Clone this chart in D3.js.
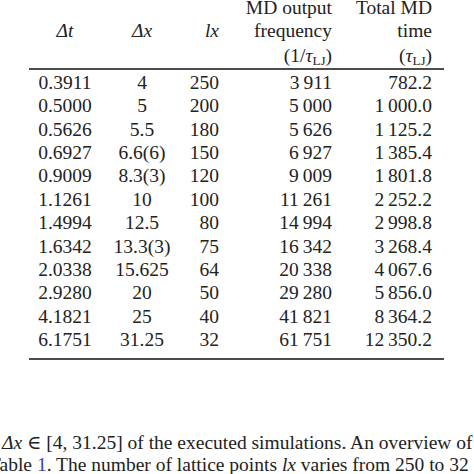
<!DOCTYPE html>
<html><head><meta charset="utf-8">
<script src="https://cdn.jsdelivr.net/npm/d3@7"></script>
<style>
body{margin:0;background:#fff;}
svg text{font-family:"Liberation Serif","DejaVu Serif",serif;fill:#222;}
</style></head>
<body><svg id="chart" width="474" height="474"></svg>
<script>
// table values
const dt = ["0.3911","0.5000","0.5626","0.6927","0.9009","1.1261","1.4994","1.6342","2.0338","2.9280","4.1821","6.1751"];
const dx = ["4","5","5.5","6.6(6)","8.3(3)","10","12.5","13.3(3)","15.625","20","25","31.25"];
const lx = [250,200,180,150,120,100,80,75,64,50,40,32];
const freq = [3911,5000,5626,6927,9009,11261,14994,16342,20338,29280,41821,61751];
const total = [782.2,1000.0,1125.2,1385.4,1801.8,2252.2,2998.8,3268.4,4067.6,5856.0,8364.2,12350.2];

const svg = d3.select("#chart");
const fs = 19.5;

// thin-space thousands grouping
const grp = v => {
    const [i, f] = v.toString().split(".");
    const s = i.length > 3 ? i.slice(0, -3) + "\u2009" + i.slice(-3) : i;
    return f !== undefined ? s + "." + f : s;
};
const fmtTotal = v => grp(v.toFixed(1));

const y = d3.scaleBand().domain(d3.range(dt.length)).range([70, 351]);

const cols = [
    {x: 65, anchor: "middle", vals: dt},
    {x: 142, anchor: "middle", vals: dx},
    {x: 219, anchor: "end", vals: lx.map(String)},
    {x: 332, anchor: "end", vals: freq.map(grp)},
    {x: 432, anchor: "end", vals: total.map(fmtTotal)}
];

// header
const hdr = svg.append("g").attr("font-size", fs);
function hText(x, yy, anchor) {
    return hdr.append("text").attr("x", x).attr("y", yy).attr("text-anchor", anchor);
}
let t = hText(65, 37, "middle"); t.append("tspan").attr("font-style", "italic").text("\u0394t");
t = hText(142, 37, "middle"); t.append("tspan").attr("font-style", "italic").text("\u0394x");
t = hText(219, 37, "end"); t.append("tspan").attr("font-style", "italic").text("lx");
hText(332, 14, "end").text("MD output");
hText(332, 37, "end").text("frequency");
t = hText(332, 62, "end");
t.append("tspan").text("(1/");
t.append("tspan").attr("font-style", "italic").text("\u03c4");
t.append("tspan").attr("font-size", 13).attr("dy", 3).text("LJ");
t.append("tspan").attr("dy", -3).text(")");
hText(432, 14, "end").text("Total MD");
hText(432, 37, "end").text("time");
t = hText(432, 62, "end");
t.append("tspan").text("(");
t.append("tspan").attr("font-style", "italic").text("\u03c4");
t.append("tspan").attr("font-size", 13).attr("dy", 3).text("LJ");
t.append("tspan").attr("dy", -3).text(")");

// rules
svg.append("line").attr("x1", 29).attr("x2", 444).attr("y1", 69).attr("y2", 69)
    .attr("stroke", "#111").attr("stroke-width", 1.5);
svg.append("line").attr("x1", 29).attr("x2", 444).attr("y1", 359).attr("y2", 359)
    .attr("stroke", "#111").attr("stroke-width", 1.5);

// body
cols.forEach(c => {
    svg.append("g").selectAll("text").data(c.vals).join("text")
        .attr("x", c.x)
        .attr("y", (d, i) => y(i) + y.bandwidth() / 2 + 7)
        .attr("text-anchor", c.anchor)
        .attr("font-size", fs)
        .text(d => d);
});

// caption fragment
const cap = svg.append("g").attr("font-size", fs);
t = cap.append("text").attr("x", 2).attr("y", 449);
t.append("tspan").attr("font-style", "italic").text("\u0394x");
t.append("tspan").text(" \u2208 [4, 31.25] of the executed simulations. An overview of");
t = cap.append("text").attr("x", -11).attr("y", 471);
t.append("tspan").text("Table ");
t.append("tspan").style("fill", "#3344aa").text("1");
t.append("tspan").text(". The number of lattice points ");
t.append("tspan").attr("font-style", "italic").text("lx");
t.append("tspan").text(" varies from 250 to 32");
</script></body></html>
